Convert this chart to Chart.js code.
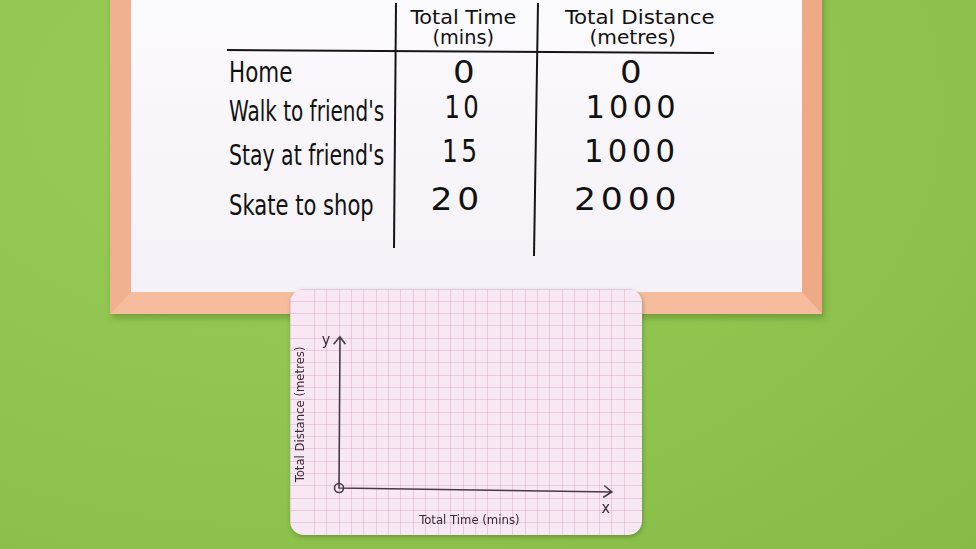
<!DOCTYPE html>
<html>
<head>
<meta charset="utf-8">
<script src="https://cdn.jsdelivr.net/npm/chart.js@4"></script>
<style>
  html, body { margin: 0; padding: 0; }
  body {
    width: 976px; height: 549px; overflow: hidden; position: relative;
    background: radial-gradient(ellipse at 30% 20%, #9acb5a 0%, #8fc44f 55%, #86bb47 100%);
    font-family: "DejaVu Sans Condensed", "DejaVu Sans", sans-serif;
  }
  #frame {
    position: absolute; left: 110px; top: -24px; width: 712px; height: 338px;
    box-sizing: border-box;
    border-left: 21px solid #f1b08f; border-right: 20px solid #eea987;
    border-bottom: 22px solid #f5bd9d; border-top: 0;
    box-shadow: 2px 4px 6px rgba(60, 90, 20, 0.35);
  }
  #board {
    position: absolute; left: 131px; top: 0; width: 671px; height: 292px;
    background: linear-gradient(180deg, #fbfafd 0%, #f5f1f8 100%);
  }
  .txt { position: absolute; color: #111; white-space: nowrap; line-height: 1; }
  .head { font-size: 19px; line-height: 19px; }
  .lbl { font-size: 28px; }
  .num { font-size: 32px; letter-spacing: 4px; }
  #lines { position: absolute; left: 0; top: 0; }
  #card {
    position: absolute; left: 290px; top: 289px; width: 352px; height: 246px;
    border-radius: 14px; overflow: hidden; background: #f8e8f4;
    box-shadow: 1px 2px 4px rgba(50, 70, 20, 0.35);
  }
</style>
</head>
<body>
<div id="frame"></div>
<div id="board"></div>
<svg id="lines" width="976" height="320">
  <line x1="227" y1="50" x2="714" y2="53" stroke="#151515" stroke-width="2"/>
  <line x1="396" y1="3" x2="394" y2="248" stroke="#151515" stroke-width="2"/>
  <line x1="538" y1="3" x2="534" y2="256" stroke="#151515" stroke-width="2"/>
</svg>
<div id="table"></div>
<div id="card"><canvas id="grafico" width="352" height="246"></canvas></div>

<script>
// Dados da tabela
const etapas = ['Home', "Walk to friend's", "Stay at friend's", 'Skate to shop'];
const tempos = [0, 10, 15, 20];            // minutos
const distancias = [0, 1000, 1000, 2000];  // metros
const cabecalhoTempo = ['Total Time', '(mins)'];
const cabecalhoDistancia = ['Total Distance', '(metres)'];
const tituloX = 'Total Time (mins)';
const tituloY = 'Total Distance (metres)';

// Montar a tabela escrita no quadro
const tabela = document.getElementById('table');
// x = centro (ou borda esquerda se alinhar = 'left'), largura = largura desejada
function addTexto(cls, texto, x, top, largura, alinhar) {
    const el = document.createElement('div');
    el.className = 'txt ' + cls;
    el.textContent = texto;
    el.style.top = top + 'px';
    tabela.appendChild(el);
    const w = el.offsetWidth;
    const s = largura / w;
    if (alinhar === 'left') {
        el.style.left = x + 'px';
        el.style.transformOrigin = 'left center';
    } else {
        el.style.left = (x - w / 2) + 'px';
        el.style.transformOrigin = 'center center';
    }
    el.style.transform = `scaleX(${s})`;
}
addTexto('head', cabecalhoTempo[0], 463, 8, 106);
addTexto('head', cabecalhoTempo[1], 463, 28, 62);
addTexto('head', cabecalhoDistancia[0], 640, 8, 150);
addTexto('head', cabecalhoDistancia[1], 632, 28, 86);

// posições e larguras
const largEtapas = [63, 155, 155, 145];
const toposEtapas = [59, 98, 142, 192];
const toposNumeros = [56, 91, 135, 183];
const centroTempo = [466, 463, 461, 457];
const largTempo = [26, 38, 39, 54];
const centroDist = [633, 632, 631, 627];
const largDist = [26, 94, 95, 107];

etapas.forEach((etapa, i) => {
    addTexto('lbl', etapa, 229, toposEtapas[i], largEtapas[i], 'left');
    addTexto('num', String(tempos[i]), centroTempo[i], toposNumeros[i], largTempo[i]);
    addTexto('num', String(distancias[i]), centroDist[i], toposNumeros[i], largDist[i]);
});

// Grade do cartão: 1 quadrado = 1 min no eixo x e 200 m no eixo y
const CELULA = 12.4;
const ORIGEM = { x: 49, y: 199 };
const W = 352, H = 246;
const passoX = 1, passoY = 200;
const fimEixoX = 22, fimEixoY = 2440;

// Desenha os eixos com setas, a origem e os rótulos
const eixosPlugin = {
    id: 'eixos',
    afterDraw(chart) {
        const { ctx, scales: { x, y } } = chart;
        const x0 = x.getPixelForValue(0), y0 = y.getPixelForValue(0);
        const xf = x.getPixelForValue(fimEixoX), yf = y.getPixelForValue(fimEixoY);
        ctx.save();
        ctx.strokeStyle = '#4a3848';
        ctx.lineWidth = 1.6;
        ctx.lineCap = 'round';
        ctx.beginPath();
        ctx.moveTo(x0, y0); ctx.lineTo(xf, y0 + 4);
        ctx.moveTo(xf - 7, y0 - 2); ctx.lineTo(xf, y0 + 4); ctx.lineTo(xf - 8, y0 + 9);
        ctx.moveTo(x0, y0); ctx.lineTo(x0 + 1, yf);
        ctx.moveTo(x0 - 5, yf + 7); ctx.lineTo(x0 + 1, yf); ctx.lineTo(x0 + 6, yf + 7);
        ctx.stroke();
        ctx.beginPath();
        ctx.arc(x0, y0, 4.5, 0, Math.PI * 2);
        ctx.stroke();

        ctx.fillStyle = '#3a2a38';
        ctx.textAlign = 'center';
        ctx.textBaseline = 'middle';
        ctx.font = '16px "DejaVu Sans Condensed", "DejaVu Sans", sans-serif';
        ctx.fillText('y', x0 - 13, yf + 4);
        ctx.fillText('x', xf - 6, y0 + 21);
        ctx.font = '13px "DejaVu Sans Condensed", "DejaVu Sans", sans-serif';
        ctx.fillText(tituloX, (x0 + xf) / 2 - 6, y0 + 33);
        ctx.translate(x0 - 38, (y0 + yf) / 2 + 2);
        ctx.rotate(-Math.PI / 2);
        ctx.fillText(tituloY, 0, 0);
        ctx.restore();
    }
};

const ctx = document.getElementById('grafico').getContext('2d');
new Chart(ctx, {
    type: 'scatter',
    data: {
        datasets: [{
            label: 'Distância x Tempo',
            data: tempos.map((t, i) => ({ x: t, y: distancias[i] })),
            hidden: true   // o gráfico ainda está em branco no cartão
        }]
    },
    options: {
        responsive: false,
        animation: false,
        layout: { padding: 0, autoPadding: false },
        plugins: { legend: { display: false }, tooltip: { enabled: false } },
        scales: {
            x: {
                min: -ORIGEM.x / CELULA * passoX,
                max: (W - ORIGEM.x) / CELULA * passoX,
                ticks: { display: false, stepSize: passoX },
                grid: { color: 'rgba(205, 150, 190, 0.38)', lineWidth: 1, drawTicks: false },
                border: { display: false }
            },
            y: {
                min: -(H - ORIGEM.y) / CELULA * passoY,
                max: ORIGEM.y / CELULA * passoY,
                ticks: { display: false, stepSize: passoY },
                grid: { color: 'rgba(205, 150, 190, 0.38)', lineWidth: 1, drawTicks: false },
                border: { display: false }
            }
        }
    },
    plugins: [eixosPlugin]
});
</script>
</body>
</html>
